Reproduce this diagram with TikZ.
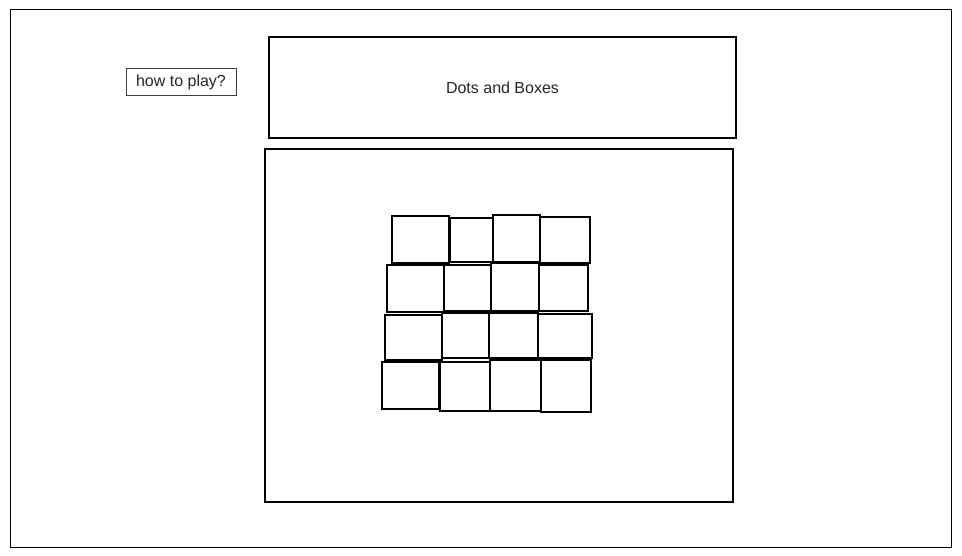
\documentclass[tikz,border=0pt]{standalone}
\usepackage{fontspec}
\setmainfont{Liberation Sans}
\begin{document}
\begin{tikzpicture}[x=1pt,y=-1pt,line width=1pt,sq/.style={line width=1.5pt},lbl/.style={font=\fontsize{16}{19}\selectfont,text=black!85}]
\useasboundingbox[fill=white] (0,0) rectangle (962,556);
\draw (10,10) rectangle (951,547);
\node[draw,line width=1.2pt,minimum width=467pt,minimum height=101pt,inner sep=0pt,lbl] (title) at (502.5,87.5) {Dots and Boxes};
\node[draw,black!75,minimum width=110pt,minimum height=27pt,inner sep=0pt,lbl] (howto) at (181,82.5) {how to play?};
\draw[line width=1.2pt] (265,149) rectangle (733,502);
\draw[sq] (392,216) rectangle (449,263);
\draw[sq] (450,218) rectangle (493,262);
\draw[sq] (493,215) rectangle (540,262);
\draw[sq] (540,217) rectangle (590,263);
\draw[sq] (387,265) rectangle (444,312);
\draw[sq] (444,265) rectangle (491,311);
\draw[sq] (491,263) rectangle (539,311);
\draw[sq] (539,265) rectangle (588,311);
\draw[sq] (385,315) rectangle (442,360);
\draw[sq] (442,313) rectangle (489,358);
\draw[sq] (489,313) rectangle (538,358);
\draw[sq] (538,314) rectangle (592,358);
\draw[sq] (382,362) rectangle (439,409);
\draw[sq] (440,362) rectangle (490,411);
\draw[sq] (490,360) rectangle (541,411);
\draw[sq] (541,360) rectangle (591,412);
\end{tikzpicture}
\end{document}
